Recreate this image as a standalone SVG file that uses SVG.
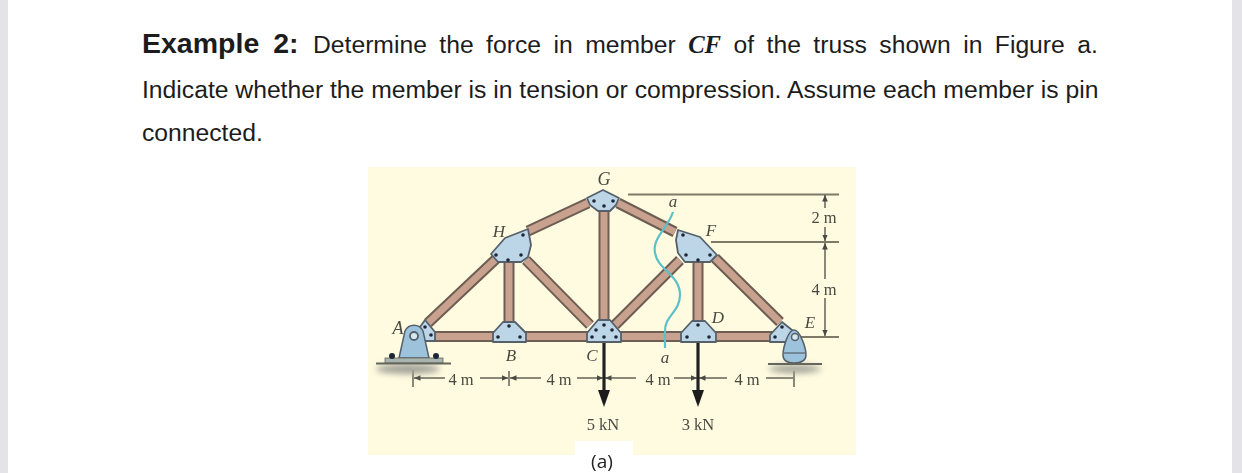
<svg xmlns="http://www.w3.org/2000/svg" width="1242" height="473" viewBox="0 0 1242 473">
<style>
.t{font-family:"Liberation Sans",Arial,sans-serif;font-size:24.7px;fill:#1c1c1c}
.l{font-family:"Liberation Serif","Times New Roman",serif;font-size:16.5px;fill:#4a4a42;text-anchor:middle}
.i{font-style:italic;font-size:17px}
.g{fill:#bcd6e8;stroke:#55606a;stroke-width:1.8;stroke-linejoin:round}
.b{fill:#1d2535}
.d{stroke:#4a4a42;stroke-width:1.3;fill:none}
.r{stroke:#7d7a68;stroke-width:2.2;fill:none}
.s{fill:#9dc3dc;stroke:#55606a;stroke-width:1.5}
</style>
<defs>
<path id="mem" d="M428 323L497 258M528 231L588 203M618 203L675 232M509 262V328M526 260L590 325M604 208V325M680 260L615 325M698 260V325M715 258L780 322M430 336.500H780"/>
<marker id="ah" markerWidth="6" markerHeight="6" refX="5" refY="3" orient="auto"><path d="M0 0.8L5 3L0 5.2z" fill="#4a4a42"/></marker>
<filter id="bl" x="-20%" y="-100%" width="140%" height="300%"><feGaussianBlur stdDeviation="3"/></filter>
<filter id="soft" x="0" y="0" width="100%" height="100%"><feGaussianBlur stdDeviation="0.4"/></filter>
</defs>
<rect width="1242" height="473" fill="#fff"/>
<rect x="0" y="0" width="8" height="473" fill="#e3e3e8"/>
<rect x="1232" y="0" width="10" height="473" fill="#e3e3e8"/>
<g id="text">
<text class="t" x="142" y="53" style="font-size:28.500px;font-weight:700;word-spacing:6px">Example 2:</text>
<text class="t" x="313" y="53" style="word-spacing:5.600px">Determine the force in member <tspan font-family="Liberation Serif" font-style="italic" font-weight="700">CF</tspan> of the truss shown in Figure a.</text>
<text class="t" x="142" y="98">Indicate whether the member is in tension or compression. Assume each member is pin</text>
<text class="t" x="142" y="141">connected.</text>
</g>
<g id="figure" filter="url(#soft)">
<rect id="figure-bg" x="368" y="167" width="488" height="288" fill="#fefbe0"/>
<rect x="575" y="441" width="58" height="32" fill="#fff"/>
<g id="members">
<use href="#mem" fill="none" stroke="#6e5d52" stroke-width="11"/>
<use href="#mem" fill="none" stroke="#c8a28e" stroke-width="7"/>
</g>
<g id="section-cut"><path d="M673 212C668 228 652 238 655 253C658 270 680 275 680 295C680 312 664 316 665 332V348" fill="none" stroke="#5cc0c8" stroke-width="2.200"/></g>
<g id="connectors">
<path class="r" d="M628 194.500H839M711 242H839M795 337H839"/>
<path class="d" marker-end="url(#ah)" d="M825 208V195"/>
<path class="d" marker-end="url(#ah)" d="M825 227V241"/>
<path class="d" marker-end="url(#ah)" d="M825 279V243"/>
<path class="d" marker-end="url(#ah)" d="M825 298V336"/>
<path class="d" d="M413 370V387M509 371V386M794 371V387"/>
<path class="d" marker-end="url(#ah)" d="M445 378H414"/>
<path class="d" marker-end="url(#ah)" d="M480 378H508"/>
<path class="d" marker-end="url(#ah)" d="M541 378H510"/>
<path class="d" marker-end="url(#ah)" d="M577 378H603"/>
<path class="d" marker-end="url(#ah)" d="M636 378H605"/>
<path class="d" marker-end="url(#ah)" d="M674 378H697"/>
<path class="d" marker-end="url(#ah)" d="M727 378H699"/>
<path class="d" d="M766 378H793"/>
<path d="M604 342V394" stroke="#222" stroke-width="3.200" fill="none"/><path d="M598 390H610L604 407z" fill="#1c1c1c"/>
<path d="M698 342V394" stroke="#222" stroke-width="3.200" fill="none"/><path d="M692 390H704L698 407z" fill="#1c1c1c"/>
</g>
<g id="node-A">
<path class="g" d="M425 320L435 332V341H420V327z"/>
<circle class="b" cx="425" cy="327" r="1.800"/><circle class="b" cx="431" cy="335" r="1.800"/>
<ellipse cx="408" cy="369" rx="32" ry="5" fill="#a0a096" filter="url(#bl)"/>
<path class="s" d="M399 358L405 331A10 10 0 0 1 423 331L429 358z"/>
<circle cx="414" cy="336" r="4" fill="#d8e6ee" stroke="#55606a" stroke-width="1.800"/>
<rect x="385" y="358" width="58" height="5" fill="#a8b4b0" stroke="#66665c" stroke-width=".8"/>
<path d="M376 363.500H451" stroke="#66665c" stroke-width="1.800"/>
<circle class="b" cx="392" cy="356" r="3"/><circle class="b" cx="436" cy="356" r="3"/>
<text class="l i" x="398" y="334" style="font-size:18px">A</text>
</g>
<g id="node-B">
<path class="g" d="M493 333L503 322H515L526 333V342H493z"/>
<circle class="b" cx="509" cy="326" r="1.800"/><circle class="b" cx="498" cy="337" r="1.800"/><circle class="b" cx="520" cy="337" r="1.800"/>
<text class="l i" x="511" y="361">B</text>
</g>
<g id="node-C">
<path class="g" d="M587 333L598 320H610L621 333V342H587z"/>
<circle class="b" cx="604" cy="325" r="1.800"/><circle class="b" cx="596" cy="330" r="1.800"/><circle class="b" cx="612" cy="330" r="1.800"/><circle class="b" cx="592" cy="337" r="1.800"/><circle class="b" cx="604" cy="337" r="1.800"/><circle class="b" cx="616" cy="337" r="1.800"/>
<text class="l i" x="592" y="361">C</text>
</g>
<g id="node-D">
<path class="g" d="M681 333L692 321H705L716 333V342H681z"/>
<circle class="b" cx="698" cy="325" r="1.800"/><circle class="b" cx="687" cy="337" r="1.800"/><circle class="b" cx="709" cy="337" r="1.800"/>
<text class="l i" x="718" y="323">D</text>
</g>
<g id="node-E">
<path class="g" d="M770 335L782 322L792 330V342H770z"/>
<circle class="b" cx="782" cy="327" r="1.800"/><circle class="b" cx="775" cy="337" r="1.800"/>
<ellipse cx="795" cy="369" rx="26" ry="4" fill="#a0a096" filter="url(#bl)"/>
<path class="s" d="M794 330C800 330 806 348 806 355C806 360 802 363 794 363C786 363 783 360 783 355C783 348 788 330 794 330z"/>
<path d="M784 353H805" stroke="#55606a" stroke-width="1.200"/>
<circle cx="795" cy="337" r="3.500" fill="#d8e6ee" stroke="#55606a" stroke-width="1.500"/>
<path d="M768 364H822" stroke="#66665c" stroke-width="1.800"/>
<text class="l i" x="810" y="328">E</text>
</g>
<g id="node-F">
<path class="g" d="M678 230L700 237L717 255L710 262H685L678 253L676 240z"/>
<circle class="b" cx="683" cy="235" r="1.800"/><circle class="b" cx="686" cy="255" r="1.800"/><circle class="b" cx="698" cy="260" r="1.800"/><circle class="b" cx="710" cy="255" r="1.800"/>
<text class="l i" x="711" y="236">F</text>
</g>
<g id="node-G">
<path class="g" d="M587 198L603 190L619 198L616 205L610 211H598L590 205z"/>
<circle class="b" cx="594" cy="201" r="1.800"/><circle class="b" cx="604" cy="206" r="1.800"/><circle class="b" cx="613" cy="201" r="1.800"/>
<text class="l i" x="604" y="185" style="font-size:18px">G</text>
</g>
<g id="node-H">
<path class="g" d="M491 254L505 238L528 229L531 245L528 257L521 262H498z"/>
<circle class="b" cx="523" cy="235" r="1.800"/><circle class="b" cx="496" cy="255" r="1.800"/><circle class="b" cx="508" cy="260" r="1.800"/><circle class="b" cx="521" cy="255" r="1.800"/>
<text class="l i" x="499" y="237">H</text>
</g>
<g id="labels">
<text class="l i" x="673" y="207">a</text>
<text class="l i" x="665" y="363">a</text>
<text class="l" x="824" y="223">2 m</text>
<text class="l" x="824" y="295">4 m</text>
<text class="l" x="461" y="385">4 m</text>
<text class="l" x="559" y="385">4 m</text>
<text class="l" x="658" y="385">4 m</text>
<text class="l" x="747" y="385">4 m</text>
<text class="l" x="603" y="430">5 kN</text>
<text class="l" x="698" y="430">3 kN</text>
<text x="602" y="468" text-anchor="middle" style="font-family:'Open Sans','Liberation Sans',sans-serif;font-size:19px;fill:#222">(a)</text>
</g>
</g>
</svg>
